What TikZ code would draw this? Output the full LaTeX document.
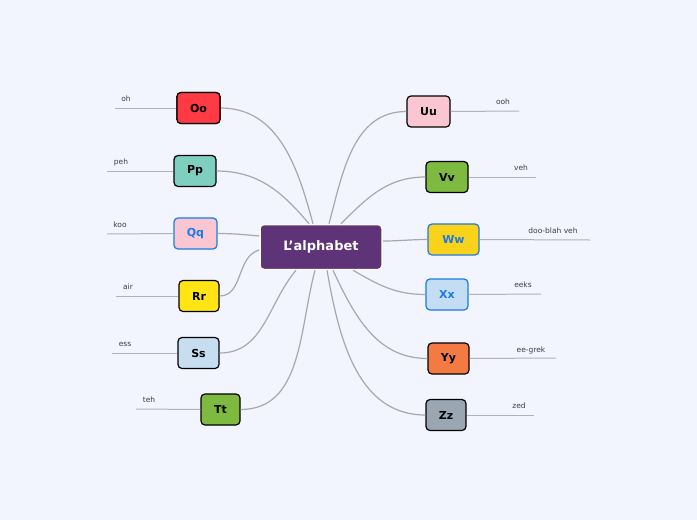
\documentclass[tikz,border=0pt]{standalone}
\usepackage{fontspec}
\setmainfont{DejaVu Sans}
\begin{document}
\begin{tikzpicture}[x=1pt,y=-1pt,
  letter/.style={draw=black,line width=1.2pt,rounded corners=4pt,font=\bfseries\fontsize{11}{12}\selectfont,minimum height=31pt,inner sep=0pt},
  blue/.style={draw={rgb,255:red,26;green,123;blue,230},text={rgb,255:red,26;green,123;blue,230}},
  lab/.style={font=\fontsize{7.5}{8}\selectfont,text={rgb,255:red,60;green,60;blue,70},inner sep=0pt},
  uline/.style={draw={rgb,255:red,175;green,178;blue,188},line width=1pt},
  conn/.style={draw={rgb,255:red,168;green,168;blue,172},line width=1.2pt}]
\definecolor{bg}{RGB}{242,245,254}
\fill[bg] (0,0) rectangle (697,520);
\useasboundingbox (0,0) rectangle (697,520);
\node[fill={rgb,255:red,94;green,51;blue,120},draw=white,line width=1.5pt,rounded corners=4pt,minimum width=122pt,minimum height=45pt,text=white,font=\bfseries\fontsize{13}{14}\selectfont] (c) at (321,247) {L'alphabet};
% nodes
\node[letter,minimum width=43pt,fill={rgb,255:red,255;green,58;blue,69}] (O) at (198.5,108) {Oo};
\node[letter,minimum width=42pt,fill={rgb,255:red,127;green,207;blue,192}] (P) at (195,171) {Pp};
\node[letter,blue,minimum width=43pt,fill={rgb,255:red,249;green,198;blue,210}] (Q) at (195.5,233.5) {Qq};
\node[letter,minimum width=40pt,fill={rgb,255:red,255;green,229;blue,20}] (R) at (199,296) {Rr};
\node[letter,minimum width=41pt,fill={rgb,255:red,199;green,222;blue,240}] (S) at (198.5,353) {Ss};
\node[letter,minimum width=39pt,fill={rgb,255:red,125;green,186;blue,63}] (T) at (220.5,409.5) {Tt};
\node[letter,minimum width=43pt,fill={rgb,255:red,249;green,198;blue,210}] (U) at (428.5,111.5) {Uu};
\node[letter,minimum width=42pt,fill={rgb,255:red,125;green,186;blue,63}] (V) at (447,177) {Vv};
\node[letter,blue,minimum width=51pt,fill={rgb,255:red,250;green,210;blue,26}] (W) at (453.5,239.5) {Ww};
\node[letter,blue,minimum width=42pt,fill={rgb,255:red,195;green,221;blue,243}] (X) at (447,294.5) {Xx};
\node[letter,minimum width=41pt,fill={rgb,255:red,244;green,122;blue,67}] (Y) at (448.5,358.5) {Yy};
\node[letter,minimum width=40pt,fill={rgb,255:red,154;green,166;blue,177}] (Z) at (446,415) {Zz};
% connectors
\begin{scope}[on background layer/.style={}]
\draw[conn] (c.north) ++(-8,0) coordinate (cn1) to[out=105,in=0] (O.east);
\draw[conn] (cn1) ++(-4,0) to[out=130,in=0] (P.east);
\draw[conn] (c.west) ++(0,-11) coordinate (cw) to[out=175,in=0] (Q.east);
\draw[conn] (c.west) ++(0,3) to[out=195,in=0] (R.east);
\draw[conn] (c.south) ++(-25,0) to[out=230,in=0] (S.east);
\draw[conn] (c.south) ++(-6,0) to[out=255,in=0] (T.east);
\draw[conn] (c.north) ++(8,0) to[out=75,in=180] (U.west);
\draw[conn] (c.north) ++(20,0) to[out=45,in=180] (V.west);
\draw[conn] (c.east) ++(0,-6) to[out=0,in=180] (W.west);
\draw[conn] (c.south) ++(32,0) to[out=-30,in=180] (X.west);
\draw[conn] (c.south) ++(12,0) to[out=-65,in=180] (Y.west);
\draw[conn] (c.south) ++(6,0) to[out=-80,in=180] (Z.west);
\end{scope}
\node[letter,minimum width=43pt,fill={rgb,255:red,255;green,58;blue,69}] at (O) {Oo};
% labels
\coordinate (oe) at (115,108); \draw[uline] (O.west) -- (oe); \node[lab] (lo) at (126,99) {oh};
\coordinate (pe) at (107,171); \draw[uline] (P.west) -- (pe); \node[lab] (lp) at (121,162) {peh};
\coordinate (qe) at (107,234); \draw[uline] (Q.west) -- (qe); \node[lab] (lq) at (120,225) {koo};
\coordinate (re) at (116,296); \draw[uline] (R.west) -- (re); \node[lab] (lr) at (128,287) {air};
\coordinate (se) at (112,353); \draw[uline] (S.west) -- (se); \node[lab] (ls) at (125,344) {ess};
\coordinate (te) at (136,409); \draw[uline] (T.west) -- (te); \node[lab] (lt) at (149,400) {teh};
\coordinate (ue) at (519,111); \draw[uline] (U.east) -- (ue); \node[lab] (lu) at (503,102) {ooh};
\coordinate (ve) at (536,177); \draw[uline] (V.east) -- (ve); \node[lab] (lv) at (521,168) {veh};
\coordinate (we) at (590,240); \draw[uline] (W.east) -- (we); \node[lab] (lw) at (553,231) {doo-blah veh};
\coordinate (xe) at (541,294); \draw[uline] (X.east) -- (xe); \node[lab] (lx) at (523,285) {eeks};
\coordinate (ye) at (556,358); \draw[uline] (Y.east) -- (ye); \node[lab] (ly) at (531,350) {ee-grek};
\coordinate (ze) at (534,415); \draw[uline] (Z.east) -- (ze); \node[lab] (lz) at (519,406) {zed};
\end{tikzpicture}
\end{document}
